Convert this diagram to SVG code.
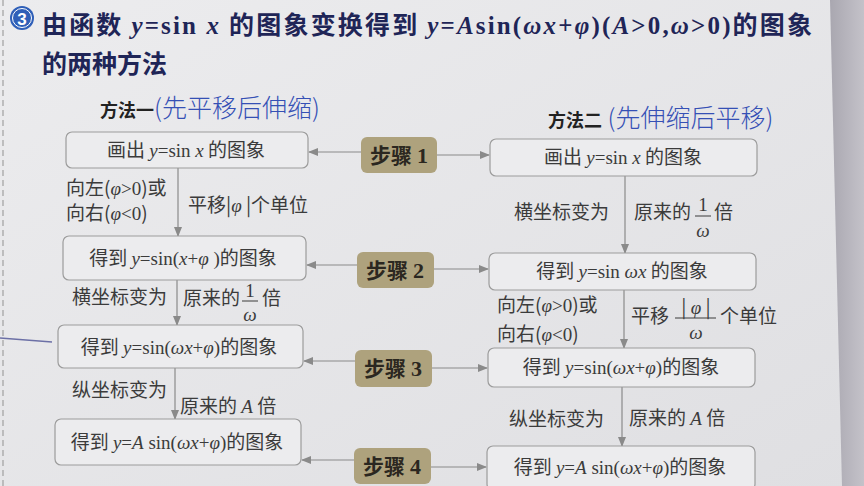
<svg xmlns="http://www.w3.org/2000/svg" width="864" height="486" viewBox="0 0 864 486">
<defs>
<linearGradient id="pg" x1="0" y1="0" x2="1" y2="1">
<stop offset="0" stop-color="#ececee"/>
<stop offset="1" stop-color="#dfdfe2"/>
</linearGradient>
<linearGradient id="edge" x1="0" y1="0" x2="1" y2="0">
<stop offset="0" stop-color="#a9a7b0"/>
<stop offset="1" stop-color="#c4c2c9"/>
</linearGradient>
<marker id="ah" markerWidth="10" markerHeight="8" refX="9" refY="4" orient="auto" markerUnits="userSpaceOnUse">
<path d="M0,0 L10,4 L0,8 z" fill="#8a8a8a"/>
</marker>
</defs>
<style>
.box{fill:#ececee;stroke:#9c9c9c;stroke-width:1.2}
.badge{fill:#aea27d}
.bt{font-family:"Noto Sans CJK SC",sans-serif;font-weight:bold;font-size:21px;fill:#2b2720}
.bn{font-family:"Liberation Serif",serif;font-weight:bold;font-size:22px}
.t{font-family:"Noto Sans CJK SC",sans-serif;font-size:19px;fill:#3b3b3b}
.s{font-family:"Noto Sans CJK SC",sans-serif;font-size:19px;fill:#3b3b3b}
.m{font-family:"Liberation Serif",serif;font-style:italic}
.r{font-family:"Liberation Serif",serif;font-style:normal}
.c{stroke:#8a8a8a;stroke-width:1.2;fill:none}
.title{font-family:"Noto Sans CJK SC",sans-serif;font-size:25px;font-weight:bold;fill:#1f2557}
.tm{font-family:"Liberation Serif",serif;font-style:italic;font-weight:bold}
.tr{font-family:"Liberation Serif",serif;font-weight:bold}
.hw{font-family:"Noto Sans CJK SC",sans-serif;font-size:25px;fill:#3550b5;font-weight:300}
.mh{font-family:"Noto Sans CJK SC",sans-serif;font-size:18px;fill:#222;font-weight:bold}
</style>
<rect x="0" y="0" width="864" height="486" fill="url(#pg)"/>
<polygon points="830,0 864,0 864,486 842,486" fill="url(#edge)"/>
<line x1="3" y1="0" x2="3" y2="486" stroke="#a0a0a0" stroke-width="1.2" stroke-dasharray="6 4"/>
<line x1="0" y1="338" x2="52" y2="342" stroke="#6c70a6" stroke-width="1.5"/>

<g id="title">
<circle cx="22" cy="18" r="12" fill="#2f5fb8"/>
<circle cx="22" cy="18" r="9.5" fill="none" stroke="#ffffff" stroke-width="1"/>
<text x="22" y="24.5" text-anchor="middle" font-family="Liberation Sans, sans-serif" font-weight="bold" font-size="17" fill="#ffffff">3</text>
<text class="title" x="42" y="34" textLength="770" lengthAdjust="spacing">由函数 <tspan class="tm">y</tspan><tspan class="tr">=sin </tspan><tspan class="tm">x</tspan> 的图象变换得到 <tspan class="tm">y</tspan><tspan class="tr">=</tspan><tspan class="tm">A</tspan><tspan class="tr">sin(</tspan><tspan class="tm">ωx</tspan><tspan class="tr">+</tspan><tspan class="tm">φ</tspan><tspan class="tr">)(</tspan><tspan class="tm">A</tspan><tspan class="tr">&gt;0,</tspan><tspan class="tm">ω</tspan><tspan class="tr">&gt;0)</tspan>的图象</text>
<text class="title" x="42" y="73">的两种方法</text>
</g>

<g id="method1-head">
<text x="100" y="117"><tspan class="mh">方法一</tspan><tspan class="hw">(先平移后伸缩)</tspan></text>
</g>
<g id="method2-head">
<text x="548" y="127"><tspan class="mh">方法二</tspan><tspan class="hw"> (先伸缩后平移)</tspan></text>
</g>

<g id="connectors">
<line class="c" x1="361" y1="152" x2="309" y2="152" marker-end="url(#ah)"/>
<line class="c" x1="437" y1="155" x2="489" y2="155" marker-end="url(#ah)"/>
<line class="c" x1="357" y1="265" x2="307" y2="265" marker-end="url(#ah)"/>
<line class="c" x1="434" y1="269" x2="488" y2="269" marker-end="url(#ah)"/>
<line class="c" x1="355" y1="361" x2="304" y2="361" marker-end="url(#ah)"/>
<line class="c" x1="432" y1="368" x2="487" y2="368" marker-end="url(#ah)"/>
<line class="c" x1="354" y1="460" x2="302" y2="460" marker-end="url(#ah)"/>
<line class="c" x1="431" y1="467" x2="486" y2="467" marker-end="url(#ah)"/>
<line class="c" x1="178" y1="168" x2="178" y2="236" marker-end="url(#ah)"/>
<line class="c" x1="177" y1="280" x2="177" y2="325" marker-end="url(#ah)"/>
<line class="c" x1="175" y1="368" x2="175" y2="419" marker-end="url(#ah)"/>
<line class="c" x1="625" y1="176" x2="625" y2="253" marker-end="url(#ah)"/>
<line class="c" x1="624" y1="290" x2="624" y2="348" marker-end="url(#ah)"/>
<line class="c" x1="622" y1="387" x2="622" y2="446" marker-end="url(#ah)"/>
</g>

<g id="edge-labels">
<text class="s" x="66" y="195">向左(<tspan class="m">φ</tspan><tspan class="r">&gt;0</tspan>)或</text>
<text class="s" x="66" y="220">向右(<tspan class="m">φ</tspan><tspan class="r">&lt;0</tspan>)</text>
<text class="t" x="188" y="212">平移|<tspan class="m">φ</tspan> |个单位</text>

<text class="s" x="72" y="304">横坐标变为</text>
<text class="t" x="183" y="305">原来的</text>
<text class="t r" x="250" y="297" text-anchor="middle">1</text>
<line x1="242" y1="301" x2="258" y2="301" stroke="#3b3b3b" stroke-width="1"/>
<text class="t m" x="250" y="321" text-anchor="middle">ω</text>
<text class="t" x="262" y="305">倍</text>

<text class="s" x="72" y="397">纵坐标变为</text>
<text class="t" x="180" y="413">原来的 <tspan class="m">A</tspan> 倍</text>

<text class="s" x="514" y="219">横坐标变为</text>
<text class="t" x="634" y="219">原来的</text>
<text class="t r" x="703" y="211" text-anchor="middle">1</text>
<line x1="695" y1="216" x2="711" y2="216" stroke="#3b3b3b" stroke-width="1"/>
<text class="t m" x="703" y="237" text-anchor="middle">ω</text>
<text class="t" x="714" y="219">倍</text>

<text class="s" x="497" y="312">向左(<tspan class="m">φ</tspan><tspan class="r">&gt;0</tspan>)或</text>
<text class="s" x="497" y="341">向右(<tspan class="m">φ</tspan><tspan class="r">&lt;0</tspan>)</text>
<text class="t" x="631" y="323">平移</text>
<text class="t" x="696" y="314" text-anchor="middle">| <tspan class="m">φ</tspan> |</text>
<line x1="675" y1="318" x2="716" y2="318" stroke="#3b3b3b" stroke-width="1"/>
<text class="t m" x="696" y="339" text-anchor="middle">ω</text>
<text class="t" x="720" y="323">个单位</text>

<text class="s" x="509" y="426">纵坐标变为</text>
<text class="t" x="629" y="425">原来的 <tspan class="m">A</tspan> 倍</text>
</g>

<g id="L1"><rect class="box" x="66" y="132" width="242" height="36" rx="6"/>
<text class="t" x="186" y="157" text-anchor="middle">画出 <tspan class="m">y</tspan><tspan class="r">=sin </tspan><tspan class="m">x</tspan> 的图象</text></g>
<g id="L2"><rect class="box" x="63" y="236" width="243" height="44" rx="6"/>
<text class="t" x="183" y="265" text-anchor="middle">得到 <tspan class="m">y</tspan><tspan class="r">=sin(</tspan><tspan class="m">x</tspan><tspan class="r">+</tspan><tspan class="m">φ</tspan><tspan class="r"> )</tspan>的图象</text></g>
<g id="L3"><rect class="box" x="58" y="325" width="245" height="43" rx="6"/>
<text class="t" x="179" y="354" text-anchor="middle">得到 <tspan class="m">y</tspan><tspan class="r">=sin(</tspan><tspan class="m">ωx</tspan><tspan class="r">+</tspan><tspan class="m">φ</tspan><tspan class="r">)</tspan>的图象</text></g>
<g id="L4"><rect class="box" x="55" y="419" width="246" height="46" rx="6"/>
<text class="t" x="177" y="449" text-anchor="middle">得到 <tspan class="m">y</tspan><tspan class="r">=</tspan><tspan class="m">A</tspan><tspan class="r"> sin(</tspan><tspan class="m">ωx</tspan><tspan class="r">+</tspan><tspan class="m">φ</tspan><tspan class="r">)</tspan>的图象</text></g>

<g id="R1"><rect class="box" x="490" y="139" width="267" height="37" rx="6"/>
<text class="t" x="623" y="164" text-anchor="middle">画出 <tspan class="m">y</tspan><tspan class="r">=sin </tspan><tspan class="m">x</tspan> 的图象</text></g>
<g id="R2"><rect class="box" x="489" y="253" width="267" height="37" rx="6"/>
<text class="t" x="622" y="278" text-anchor="middle">得到 <tspan class="m">y</tspan><tspan class="r">=sin </tspan><tspan class="m">ωx</tspan> 的图象</text></g>
<g id="R3"><rect class="box" x="488" y="348" width="267" height="39" rx="6"/>
<text class="t" x="621" y="374" text-anchor="middle">得到 <tspan class="m">y</tspan><tspan class="r">=sin(</tspan><tspan class="m">ωx</tspan><tspan class="r">+</tspan><tspan class="m">φ</tspan><tspan class="r">)</tspan>的图象</text></g>
<g id="R4"><rect class="box" x="487" y="446" width="268" height="44" rx="6"/>
<text class="t" x="620" y="474" text-anchor="middle">得到 <tspan class="m">y</tspan><tspan class="r">=</tspan><tspan class="m">A</tspan><tspan class="r"> sin(</tspan><tspan class="m">ωx</tspan><tspan class="r">+</tspan><tspan class="m">φ</tspan><tspan class="r">)</tspan>的图象</text></g>

<g id="step1"><rect class="badge" x="361" y="137" width="76" height="36" rx="6"/>
<text class="bt" x="399" y="163" text-anchor="middle">步骤 <tspan class="bn">1</tspan></text></g>
<g id="step2"><rect class="badge" x="357" y="252" width="77" height="36" rx="6"/>
<text class="bt" x="395" y="278" text-anchor="middle">步骤 <tspan class="bn">2</tspan></text></g>
<g id="step3"><rect class="badge" x="355" y="350" width="77" height="37" rx="6"/>
<text class="bt" x="393" y="376" text-anchor="middle">步骤 <tspan class="bn">3</tspan></text></g>
<g id="step4"><rect class="badge" x="354" y="448" width="77" height="36" rx="6"/>
<text class="bt" x="392" y="474" text-anchor="middle">步骤 <tspan class="bn">4</tspan></text></g>
</svg>
